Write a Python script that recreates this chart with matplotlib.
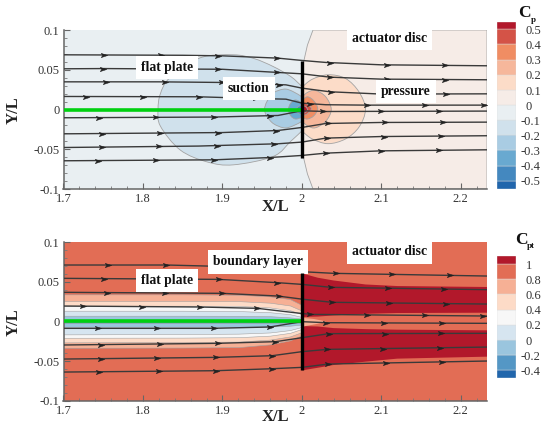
import numpy as np
import matplotlib
matplotlib.use('Agg')
import matplotlib.pyplot as plt
from matplotlib.path import Path
from matplotlib.patches import PathPatch

plt.rcParams['font.family'] = ['Liberation Serif', 'DejaVu Serif']

# ==========================
#      Values read off
# ==========================

x_ticks = [1.7, 1.8, 1.9, 2.0, 2.1, 2.2]
x_tick_labels = ['1.7', '1.8', '1.9', '2', '2.1', '2.2']
y_ticks = [-0.1, -0.05, 0, 0.05, 0.1]
y_tick_labels = ['-0.1', '-0.05', '0', '0.05', '0.1']

cp_levels = [-0.5, -0.4, -0.3, -0.2, -0.1, 0, 0.1, 0.2, 0.3, 0.4, 0.5]
cp_edges = [-0.555, -0.5, -0.4, -0.3, -0.2, -0.1, 0, 0.1, 0.2, 0.3, 0.4, 0.5, 0.55]
cp_colors = ['#2166AC', '#4488BF', '#69A9D0', '#A9CCE3', '#D0E1EC', '#E9EFF2',
             '#F6ECE7', '#FCDCC8', '#F6B79B', '#F08D63', '#D45347', '#B2182B']
cp_labels = ['-0.5', '-0.4', '-0.3', '-0.2', '-0.1', '0', '0.1', '0.2', '0.3', '0.4', '0.5']

cpt_levels = [-0.4, -0.2, 0, 0.2, 0.4, 0.6, 0.8, 1.0]
cpt_edges = [-0.5, -0.4, -0.2, 0, 0.2, 0.4, 0.6, 0.8, 1.0, 1.11]
cpt_colors = ['#2166AC', '#5497C5', '#9AC5DE', '#D6E5F0', '#F7F7F7',
              '#FDDBC7', '#F6B095', '#E26D55', '#B2182B']
cpt_labels = ['-0.4', '-0.2', '0', '0.2', '0.4', '0.6', '0.8', '1']

# zero line of Cp
cp_zero_x = [2.014, 2.007, 2.002, 2.0, 2.002, 2.007, 2.014]
cp_zero_y = [0.1, 0.081, 0.059, 0, -0.06, -0.081, -0.1]

# Cp iso-lines, (x, y), from the disc round to the disc
cp_m1 = [(2.0, .029), (1.986, .0415), (1.964, .054), (1.94, .064), (1.914, .0688),
         (1.872, .065), (1.834, .04), (1.822, .02), (1.819, 0), (1.822, -.021),
         (1.847, -.051), (1.881, -.066), (1.914, -.0696), (1.964, -.059),
         (1.986, -.04), (2.0, -.027)]
cp_m2 = [(2.0, .016), (1.988, .023), (1.977, .0256), (1.962, .019), (1.953, 0),
         (1.962, -.016), (1.977, -.023), (1.988, -.021), (2.0, -.015)]
cp_m3 = [(2.0, .0085), (1.992, .012), (1.986, .008), (1.983, 0), (1.986, -.008),
         (1.992, -.012), (2.0, -.01)]
cp_m4 = [(2.0, .005), (1.996, .004), (1.993, 0), (1.996, -.005), (2.0, -.006)]
cp_p1 = [(2.0, .028), (2.013, .038), (2.033, .0437), (2.055, .039), (2.072, .022),
         (2.08, 0), (2.072, -.022), (2.055, -.037), (2.033, -.043), (2.013, -.037),
         (2.0, -.027)]
cp_p2 = [(2.0, .016), (2.008, .022), (2.017, .024), (2.03, .016), (2.037, 0),
         (2.03, -.015), (2.017, -.023), (2.008, -.021), (2.0, -.015)]
cp_p3 = [(2.0, .0115), (2.007, .016), (2.015, .011), (2.02, .001), (2.015, -.008),
         (2.007, -.012), (2.0, -.01)]
cp_p4 = [(2.0, .007), (2.006, .007), (2.012, .001), (2.006, -.006), (2.0, -.007)]
cp_p5 = [(2.0, .004), (2.004, .004), (2.007, 0), (2.004, -.004), (2.0, -.004)]

# Cpt boundary layer edges at these stations
bl_x = [1.7, 1.85, 1.92, 1.96, 1.985, 2.0]
bl_08 = ([.034, .034, .0335, .0315, .028, .0205], [-.0333, -.033, -.0325, -.029, -.024, -.0175])
bl_06 = ([.0256, .0256, .0255, .0235, .02, .0135], [-.0265, -.026, -.0255, -.023, -.019, -.0135])
bl_04 = ([.0197, .0197, .0195, .0175, .014, .009], [-.0207, -.0205, -.02, -.018, -.0145, -.0095])
bl_02 = ([.0134, .0134, .013, .0115, .009, .0055], [-.0164, -.016, -.0155, -.014, -.011, -.007])
bl_00 = ([.0071, .0071, .007, .0065, .005, .0035], [-.0068, -.0068, -.0068, -.0065, -.0055, -.004])
bl_m2 = ([.0016, .0016, .0016, .0016, .0015, .0015], [-.002, -.002, -.002, -.002, -.0018, -.0018])

# Cpt wake, upper and lower jets
wake_x = [2.0, 2.02, 2.04, 2.08, 2.12, 2.233]
wake_up_top = [.0605, .055, .0515, .0465, .0445, .0433]
wake_up_bot = [.0055, .006, .0075, .0095, .0105, .0109]
wake_lo_top = [-.0059, -.0065, -.0085, -.0098, -.0105, -.0113]
wake_lo_bot = [-.0618, -.0585, -.055, -.0508, -.047, -.0445]
core_x = [2.0, 2.015, 2.03]
core_top = [.0045, .003, 0]
core_bot = [-.0068, -.004, -.001]

# streamlines, top panel
top_lines = [
    ([1.7, 1.85, 1.9, 1.97, 2.0, 2.03, 2.1, 2.233], [.0688, .0682, .0675, .0646, .0617, .0592, .0562, .055]),
    ([1.7, 1.75, 1.9, 1.97, 2.0, 2.035, 2.1, 2.233], [.0512, .0515, .0506, .0466, .0449, .0407, .0382, .0374]),
    ([1.7, 1.82, 1.9, 1.98, 2.0, 2.035, 2.1, 2.233], [.0348, .0348, .034, .031, .0269, .0223, .0194, .0197]),
    ([1.7, 1.87, 1.94, 1.98, 2.0, 2.03, 2.08, 2.233], [.0164, .016, .0139, .013, .008, .006, .0055, .0055]),
    ([1.7, 1.89, 1.97, 2.0, 2.03, 2.233], [-.0104, -.0095, -.0075, -.0016, -.0025, -.002]),
    ([1.7, 1.9, 1.97, 2.0, 2.03, 2.1, 2.233], [-.0306, -.029, -.0264, -.0226, -.0176, -.0163, -.0159]),
    ([1.7, 1.87, 1.97, 2.0, 2.03, 2.1, 2.233], [-.0478, -.046, -.0431, -.041, -.036, -.034, -.033]),
    ([1.7, 1.89, 1.96, 2.0, 2.03, 2.1, 2.233], [-.0645, -.0633, -.0604, -.0578, -.0549, -.052, -.0507]),
]
top_arrows = [
    [1.751, 1.8226, 1.895, 1.969, 2.036, 2.1075, 2.18],
    [1.7495, 1.895, 1.969, 2.036, 2.1075, 2.18],
    [1.754, 1.8278, 1.899, 1.971, 2.0365, 2.181],
    [1.728, 1.8006, 1.8706, 1.942, 2.0106, 2.0823, 2.1546, 2.229],
    [1.7448, 1.8166, 1.889, 1.96, 2.027, 2.099, 2.172],
    [1.748, 1.822, 1.895, 1.967, 2.0335, 2.105, 2.177],
    [1.748, 1.82, 1.893, 1.965, 2.032, 2.103, 2.175],
    [1.744, 1.816, 1.889, 1.96, 2.031, 2.1, 2.172],
]

# streamlines, bottom panel
bot_lines = [
    ([1.7, 1.83, 1.88, 2.0, 2.04, 2.233], [.071, .071, .0697, .0626, .0605, .0571]),
    ([1.7, 1.895, 1.97, 2.0, 2.036, 2.233], [.0542, .0529, .0487, .0466, .0429, .0399]),
    ([1.7, 1.9, 1.97, 2.0, 2.038, 2.233], [.0366, .0353, .0319, .028, .024, .0218]),
    ([1.7, 1.87, 1.944, 1.998, 2.011, 2.233], [.0193, .0181, .0164, .0101, .0088, .0067]),
    ([1.7, 1.889, 1.96, 2.0, 2.031, 2.233], [-.0088, -.0088, -.0071, -.0004, -.0017, -.0025]),
    ([1.7, 1.894, 1.967, 2.0, 2.034, 2.233], [-.0298, -.0277, -.0256, -.0206, -.0155, -.0151]),
    ([1.7, 1.892, 1.9625, 2.0, 2.032, 2.233], [-.0475, -.0454, -.0433, -.0382, -.0353, -.0324]),
    ([1.7, 1.892, 1.9625, 2.0, 2.033, 2.233], [-.0639, -.0622, -.0597, -.058, -.0538, -.05]),
]
bot_arrows = [
    [1.7554, 1.829, 2.0424, 2.1139, 2.186],
    [1.7511, 1.8953, 1.969, 2.0361, 2.1084, 2.179],
    [1.7545, 1.828, 1.8995, 1.9709, 2.0382, 2.1097, 2.182],
    [1.725, 1.7986, 1.8721, 1.9436, 2.0108, 2.0823, 2.1546, 2.2282],
    [1.7439, 1.8175, 1.889, 1.9604, 2.031, 2.1033, 2.176],
    [1.7469, 1.8217, 1.894, 1.9667, 2.034, 2.1041, 2.1756],
    [1.7469, 1.8183, 1.8919, 1.9625, 2.0319, 2.1025, 2.1739],
    [1.7452, 1.8196, 1.8919, 1.9625, 2.0327, 2.1054, 2.176],
]

top_notes = [('flat plate', 1.8305, 0.0525), ('suction', 1.933, 0.0267),
             ('actuator disc', 2.1105, 0.0896), ('pressure', 2.1306, 0.0222)]
bot_notes = [('flat plate', 1.8305, 0.052), ('boundary layer', 1.9446, 0.0748),
             ('actuator disc', 2.1105, 0.0874)]

# ==========================
#        Plotting
# ==========================

W, H = 550., 430.
XMAX = 2.233
EDGE = '#a3a3a3'
arrow = Path([(-1, -.65), (1, 0), (-1, .65), (-.55, 0), (-1, -.65)],
             [Path.MOVETO, Path.LINETO, Path.LINETO, Path.LINETO, Path.CLOSEPOLY])


def blob(ax, pts, color):
    # smooth curve through the read points, closed along the disc
    p = np.array(pts)
    verts, codes = [p[0]], [Path.MOVETO]
    for i in range(len(p) - 1):
        a, b, c, d = p[max(i - 1, 0)], p[i], p[i + 1], p[min(i + 2, len(p) - 1)]
        verts += [b + (c - a) / 6, c - (d - b) / 6, c]
        codes += [Path.CURVE4] * 3
    verts.append(p[0])
    codes.append(Path.CLOSEPOLY)
    ax.add_patch(PathPatch(Path(verts, codes), fc=color, ec=EDGE, lw=0.6, zorder=2))


def base_axes(top, bottom):
    ax = fig.add_axes([63.5 / W, 1 - bottom / H, (487 - 63.5) / W, (bottom - top) / H])
    ax.set_xlim(1.7, XMAX)
    ax.set_ylim(-0.1, 0.1)
    ax.spines['top'].set_visible(False)
    ax.spines['right'].set_visible(False)
    ax.spines['left'].set_color('#666666')
    ax.spines['bottom'].set_color('#666666')
    ax.spines['left'].set_linewidth(1.1)
    ax.spines['bottom'].set_linewidth(1.1)
    ax.set_xticks(x_ticks)
    ax.set_xticklabels(x_tick_labels)
    ax.set_yticks(y_ticks)
    ax.set_yticklabels(y_tick_labels)
    ax.set_xticks(np.arange(1.72, XMAX, 0.02), minor=True)
    ax.set_yticks(np.arange(-0.09, 0.1, 0.01), minor=True)
    ax.tick_params(which='major', direction='in', length=4, width=0.8, color='#666666',
                   labelsize=9, labelcolor='#333333', pad=3)
    ax.tick_params(which='minor', direction='in', length=2, width=0.6, color='#777777')
    return ax


def overlay(ax, lines, arrows, notes):
    ax.plot([1.7, 2.0], [0, 0], color='#00D010', lw=2.6, solid_capstyle='butt', zorder=5)
    for (lx, ly), ax_x in zip(lines, arrows):
        ax.plot(lx, ly, color='#3a3a3a', lw=1.0, zorder=4)
        ax.plot(ax_x, np.interp(ax_x, lx, ly), ls='none', marker=arrow, ms=4.8,
                mfc='#222222', mec='#222222', mew=0.3, zorder=4)
    ax.plot([2.0, 2.0], [-0.0612, 0.0613], color='black', lw=2.4, solid_capstyle='butt', zorder=7)
    for txt, tx, ty in notes:
        ax.text(tx, ty, txt, ha='center', va='center', fontsize=9.8, fontweight='bold',
                color='#111111', zorder=6,
                bbox=dict(fc='white', ec='none', pad=3.6))


def colorbar(top, bottom, edges, colors, levels, labels):
    cax = fig.add_axes([496.7 / W, 1 - bottom / H, 19.3 / W, (bottom - top) / H])
    cax.bar([0] * len(colors), np.diff(edges), bottom=edges[:-1], width=1, color=colors,
            edgecolor='#dddddd', linewidth=0.3)
    cax.set_xlim(-0.5, 0.5)
    cax.set_ylim(edges[0], edges[-1])
    cax.axis('off')
    for lev, lab in zip(levels, labels):
        xpx = 520.5 if lab.startswith('-') else 525.5
        cax.annotate(lab, xy=((xpx - 496.7) / 19.3, lev), xycoords=cax.get_yaxis_transform(),
                     xytext=(0, -1.3), textcoords='offset points', ha='left', va='center',
                     fontsize=9, color='#333333', annotation_clip=False)


fig = plt.figure(figsize=(5.5, 4.3), dpi=100)

# ---- top panel, Cp
ax1 = base_axes(30, 189)
ax1.set_facecolor(cp_colors[5])
ax1.fill(cp_zero_x + [XMAX, XMAX], cp_zero_y + [-0.1, 0.1], color=cp_colors[6],
         ec=EDGE, lw=0.6, zorder=1)
blob(ax1, cp_m1, cp_colors[4])
blob(ax1, cp_m2, cp_colors[3])
blob(ax1, cp_m3, cp_colors[2])
blob(ax1, cp_m4, cp_colors[1])
blob(ax1, cp_p1, cp_colors[7])
blob(ax1, cp_p2, cp_colors[8])
blob(ax1, cp_p3, cp_colors[9])
blob(ax1, cp_p4, cp_colors[10])
blob(ax1, cp_p5, cp_colors[11])
overlay(ax1, top_lines, top_arrows, top_notes)

# ---- bottom panel, Cpt
ax2 = base_axes(242, 400.7)
ax2.set_facecolor(cpt_colors[7])
for band, col in zip([bl_08, bl_06, bl_04, bl_02, bl_00, bl_m2], cpt_colors[6:0:-1]):
    ax2.fill_between(bl_x, band[1], band[0], fc=col, ec=EDGE, lw=0.4, zorder=2)
ax2.fill_between(wake_x, wake_up_bot, wake_up_top, fc=cpt_colors[8], ec='none', zorder=2)
ax2.fill_between(wake_x, wake_lo_bot, wake_lo_top, fc=cpt_colors[8], ec='none', zorder=2)
ax2.fill_between(core_x, core_bot, core_top, fc=cpt_colors[6], ec='none', zorder=2)
overlay(ax2, bot_lines, bot_arrows, bot_notes)

# ---- colour bars
colorbar(21.7, 189, cp_edges, cp_colors, cp_levels, cp_labels)
colorbar(255.7, 377.7, cpt_edges, cpt_colors, cpt_levels, cpt_labels)

fig.text(524.5 / W, 1 - 13 / H, 'C', ha='center', va='center', fontsize=12.5, fontweight='bold', color='#111111')
fig.text(533 / W, 1 - 19.5 / H, 'p', ha='center', va='center', fontsize=6.5, fontweight='bold', color='#111111')
fig.text(521.5 / W, 1 - 240.5 / H, 'C', ha='center', va='center', fontsize=12.5, fontweight='bold', color='#111111')
fig.text(531 / W, 1 - 246.5 / H, 'pt', ha='center', va='center', fontsize=6.5, fontweight='bold', color='#111111')

for ypx, xpx in [(110, 207), (322, 417)]:
    fig.text(13.5 / W, 1 - ypx / H, 'Y/L', rotation=90, ha='center', va='center',
             fontsize=12, fontweight='bold', color='#222222')
    fig.text(276 / W, 1 - xpx / H, 'X/L', ha='center', va='center',
             fontsize=12, fontweight='bold', color='#222222')

plt.savefig('out.png', dpi=100)
